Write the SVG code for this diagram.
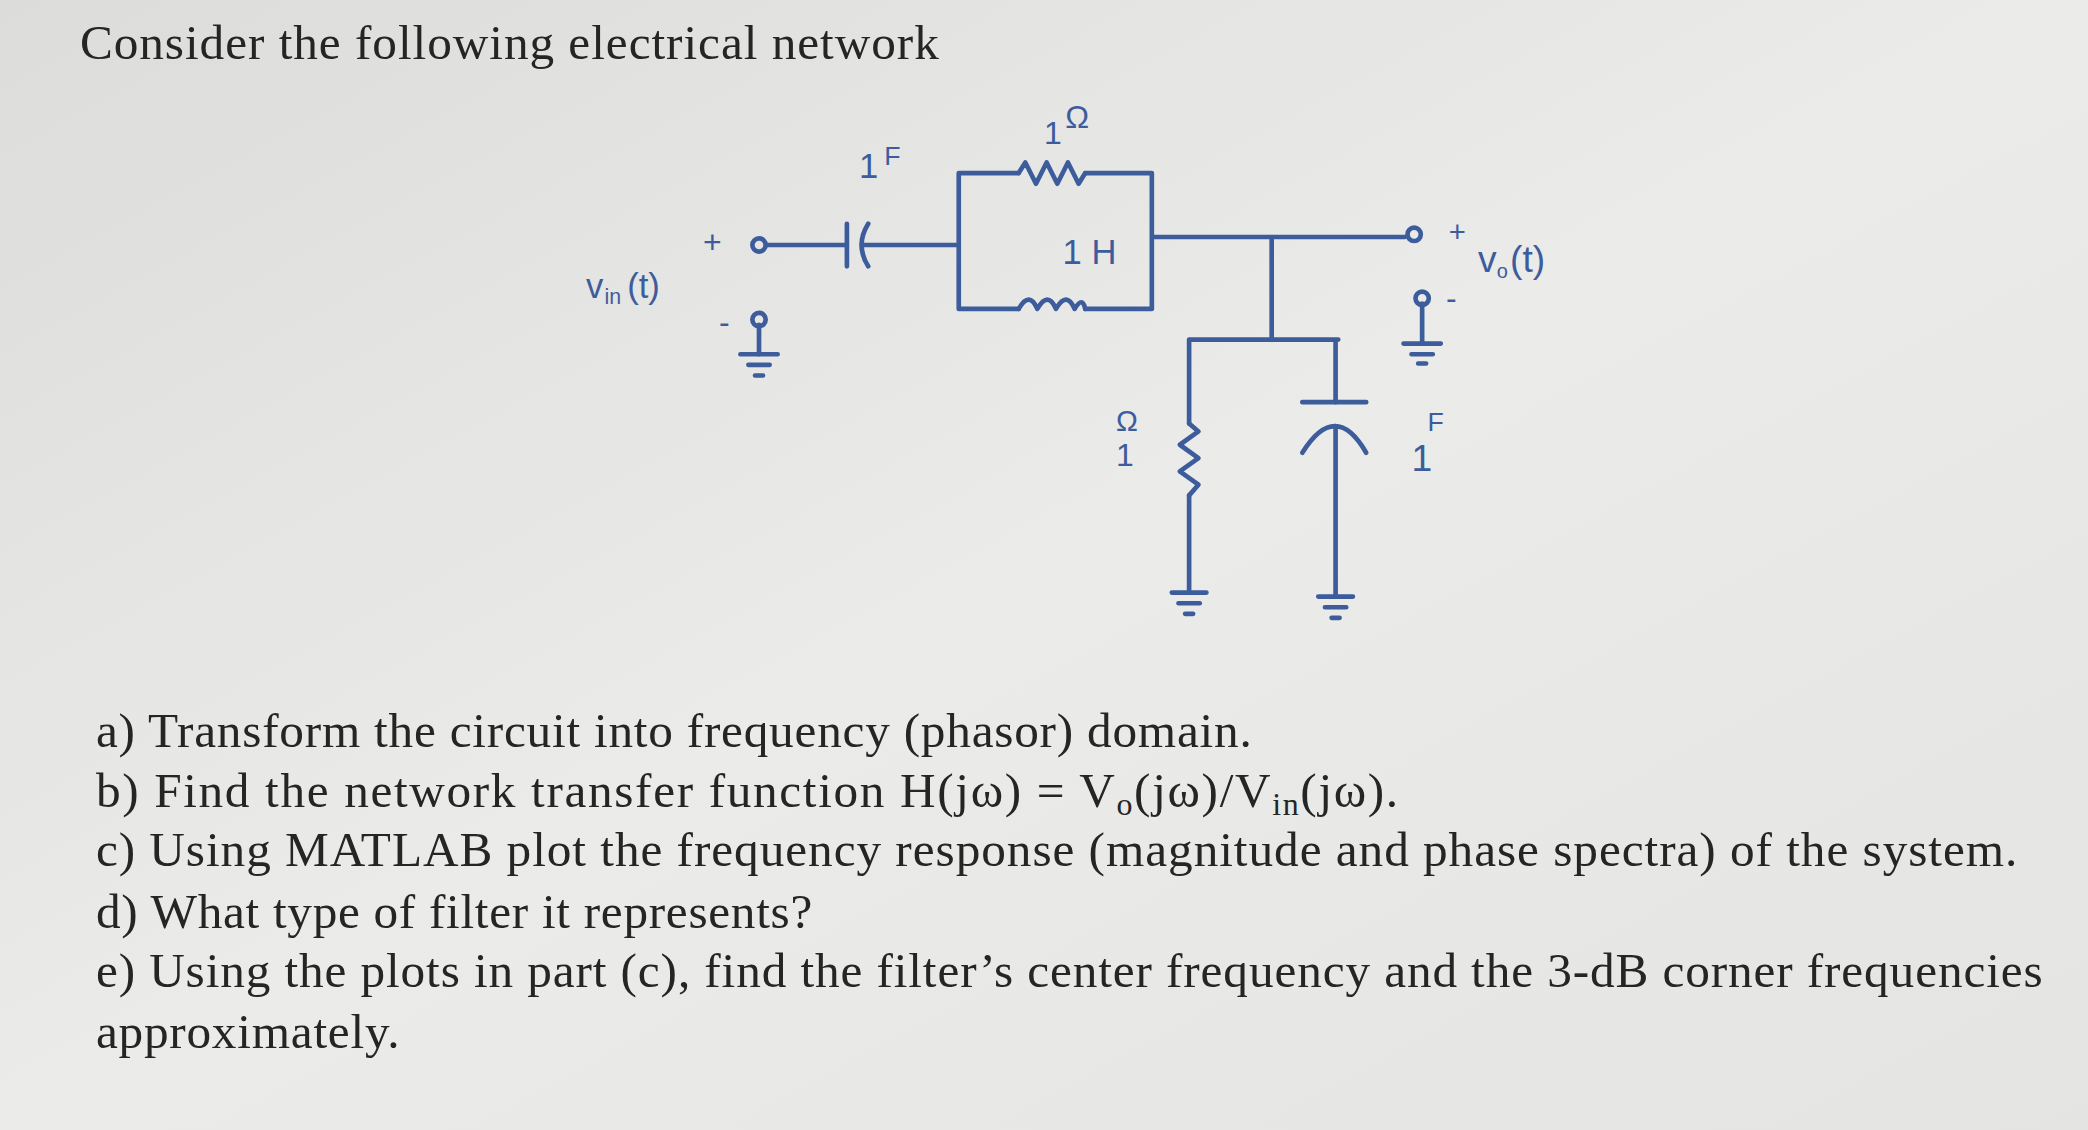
<svg xmlns="http://www.w3.org/2000/svg" width="2088" height="1130" viewBox="0 0 2088 1130">
<defs>
<linearGradient id="bg" x1="0" y1="0" x2="1" y2="1">
<stop offset="0" stop-color="#dcdcda"/><stop offset="0.5" stop-color="#ebebe9"/><stop offset="1" stop-color="#e4e4e2"/>
</linearGradient>
<style>
.w{fill:none;stroke:#3d5c9c;stroke-width:3.5;stroke-linecap:round;stroke-linejoin:round}
.h{font-family:"Liberation Sans",Arial,sans-serif;fill:#3d5c9c}
.t{font-family:"Liberation Serif","Times New Roman",serif;fill:#252525;font-size:37px}
</style>
</defs>
<rect width="2088" height="1130" fill="url(#bg)"/>
<g transform="scale(1.3316)">
<text class="t" x="60" y="44" textLength="645" font-size="38">Consider the following electrical network</text>
<g id="connectors">
<path class="w" d="M576 184 H636 M648 184 H720 M720 130 V232 M720 130 H765 M815 130 H865 V232 M720 232 H765 M815 232 H865 M865 178 H1055 M955 178 V253 M893 255 H1005 M893 255 V318 M893 372 V445 M1003 255 V302 M1003 320 V448 M1068 228 V258 M570 244 V266"/>
</g>
<g id="vin"><circle class="w" cx="570" cy="184" r="5"/><circle class="w" cx="570" cy="240" r="5"/>
<path class="w" d="M556 266 H584 M562 274 H578 M567 282 H573"/>
<text class="h" x="440" y="224" font-size="26">v</text><text class="h" x="454" y="228" font-size="16">in</text><text class="h" x="471" y="224" font-size="26">(t)</text>
<text class="h" x="528" y="190" font-size="24">+</text><text class="h" x="540" y="250" font-size="24">-</text></g>
<g id="c1"><path class="w" d="M636 168 V200 M652 168 Q642 184 652 200"/><text class="h" x="645" y="134" font-size="26">1</text><text class="h" x="664" y="124" font-size="20">F</text></g>
<g id="r1"><path class="w" d="M765 130 L770 122 L778 138 L786 122 L794 138 L802 122 L810 138 L815 130"/><text class="h" x="784" y="108" font-size="24">1</text><text class="h" x="800" y="96" font-size="24">Ω</text></g>
<g id="l1"><path class="w" d="M765 232 q8 -14 14 0 q8 -14 14 0 q8 -14 14 0 q6 -10 8 0"/><text class="h" x="798" y="198" font-size="26">1 H</text></g>
<g id="vout"><circle class="w" cx="1062" cy="176" r="5"/><circle class="w" cx="1068" cy="224" r="5"/>
<path class="w" d="M1054 258 H1082 M1060 266 H1076 M1065 273 H1071"/>
<text class="h" x="1088" y="182" font-size="22">+</text><text class="h" x="1086" y="232" font-size="24">-</text>
<text class="h" x="1110" y="204" font-size="28">v</text><text class="h" x="1124" y="209" font-size="15">o</text><text class="h" x="1134" y="204" font-size="28">(t)</text></g>
<g id="r2"><path class="w" d="M893 318 L900 324 L886 334 L900 344 L886 354 L900 364 L893 372"/><path class="w" d="M880 445 H906 M885 453 H901 M890 461 H896"/>
<text class="h" x="838" y="350" font-size="24">1</text><text class="h" x="838" y="324" font-size="22">Ω</text></g>
<g id="c2"><path class="w" d="M978 302 H1026 M978 340 Q1003 300 1026 340"/><path class="w" d="M990 448 H1016 M995 456 H1011 M1000 464 H1006"/>
<text class="h" x="1060" y="354" font-size="28">1</text><text class="h" x="1072" y="324" font-size="20">F</text></g>
<text class="t" x="72" y="561" textLength="868">a) Transform the circuit into frequency (phasor) domain.</text>
<text class="t" x="72" y="606" textLength="978">b) Find the network transfer function H(jω) = V<tspan font-size="24" dy="6">o</tspan><tspan dy="-6">(jω)/V</tspan><tspan font-size="24" dy="6">in</tspan><tspan dy="-6">(jω).</tspan></text>
<text class="t" x="72" y="650" textLength="1443">c) Using MATLAB plot the frequency response (magnitude and phase spectra) of the system.</text>
<text class="t" x="72" y="697" textLength="538">d) What type of filter it represents?</text>
<text class="t" x="72" y="741" textLength="1462">e) Using the plots in part (c), find the filter’s center frequency and the 3-dB corner frequencies</text>
<text class="t" x="72" y="787" textLength="228">approximately.</text>
</g>
</svg>
